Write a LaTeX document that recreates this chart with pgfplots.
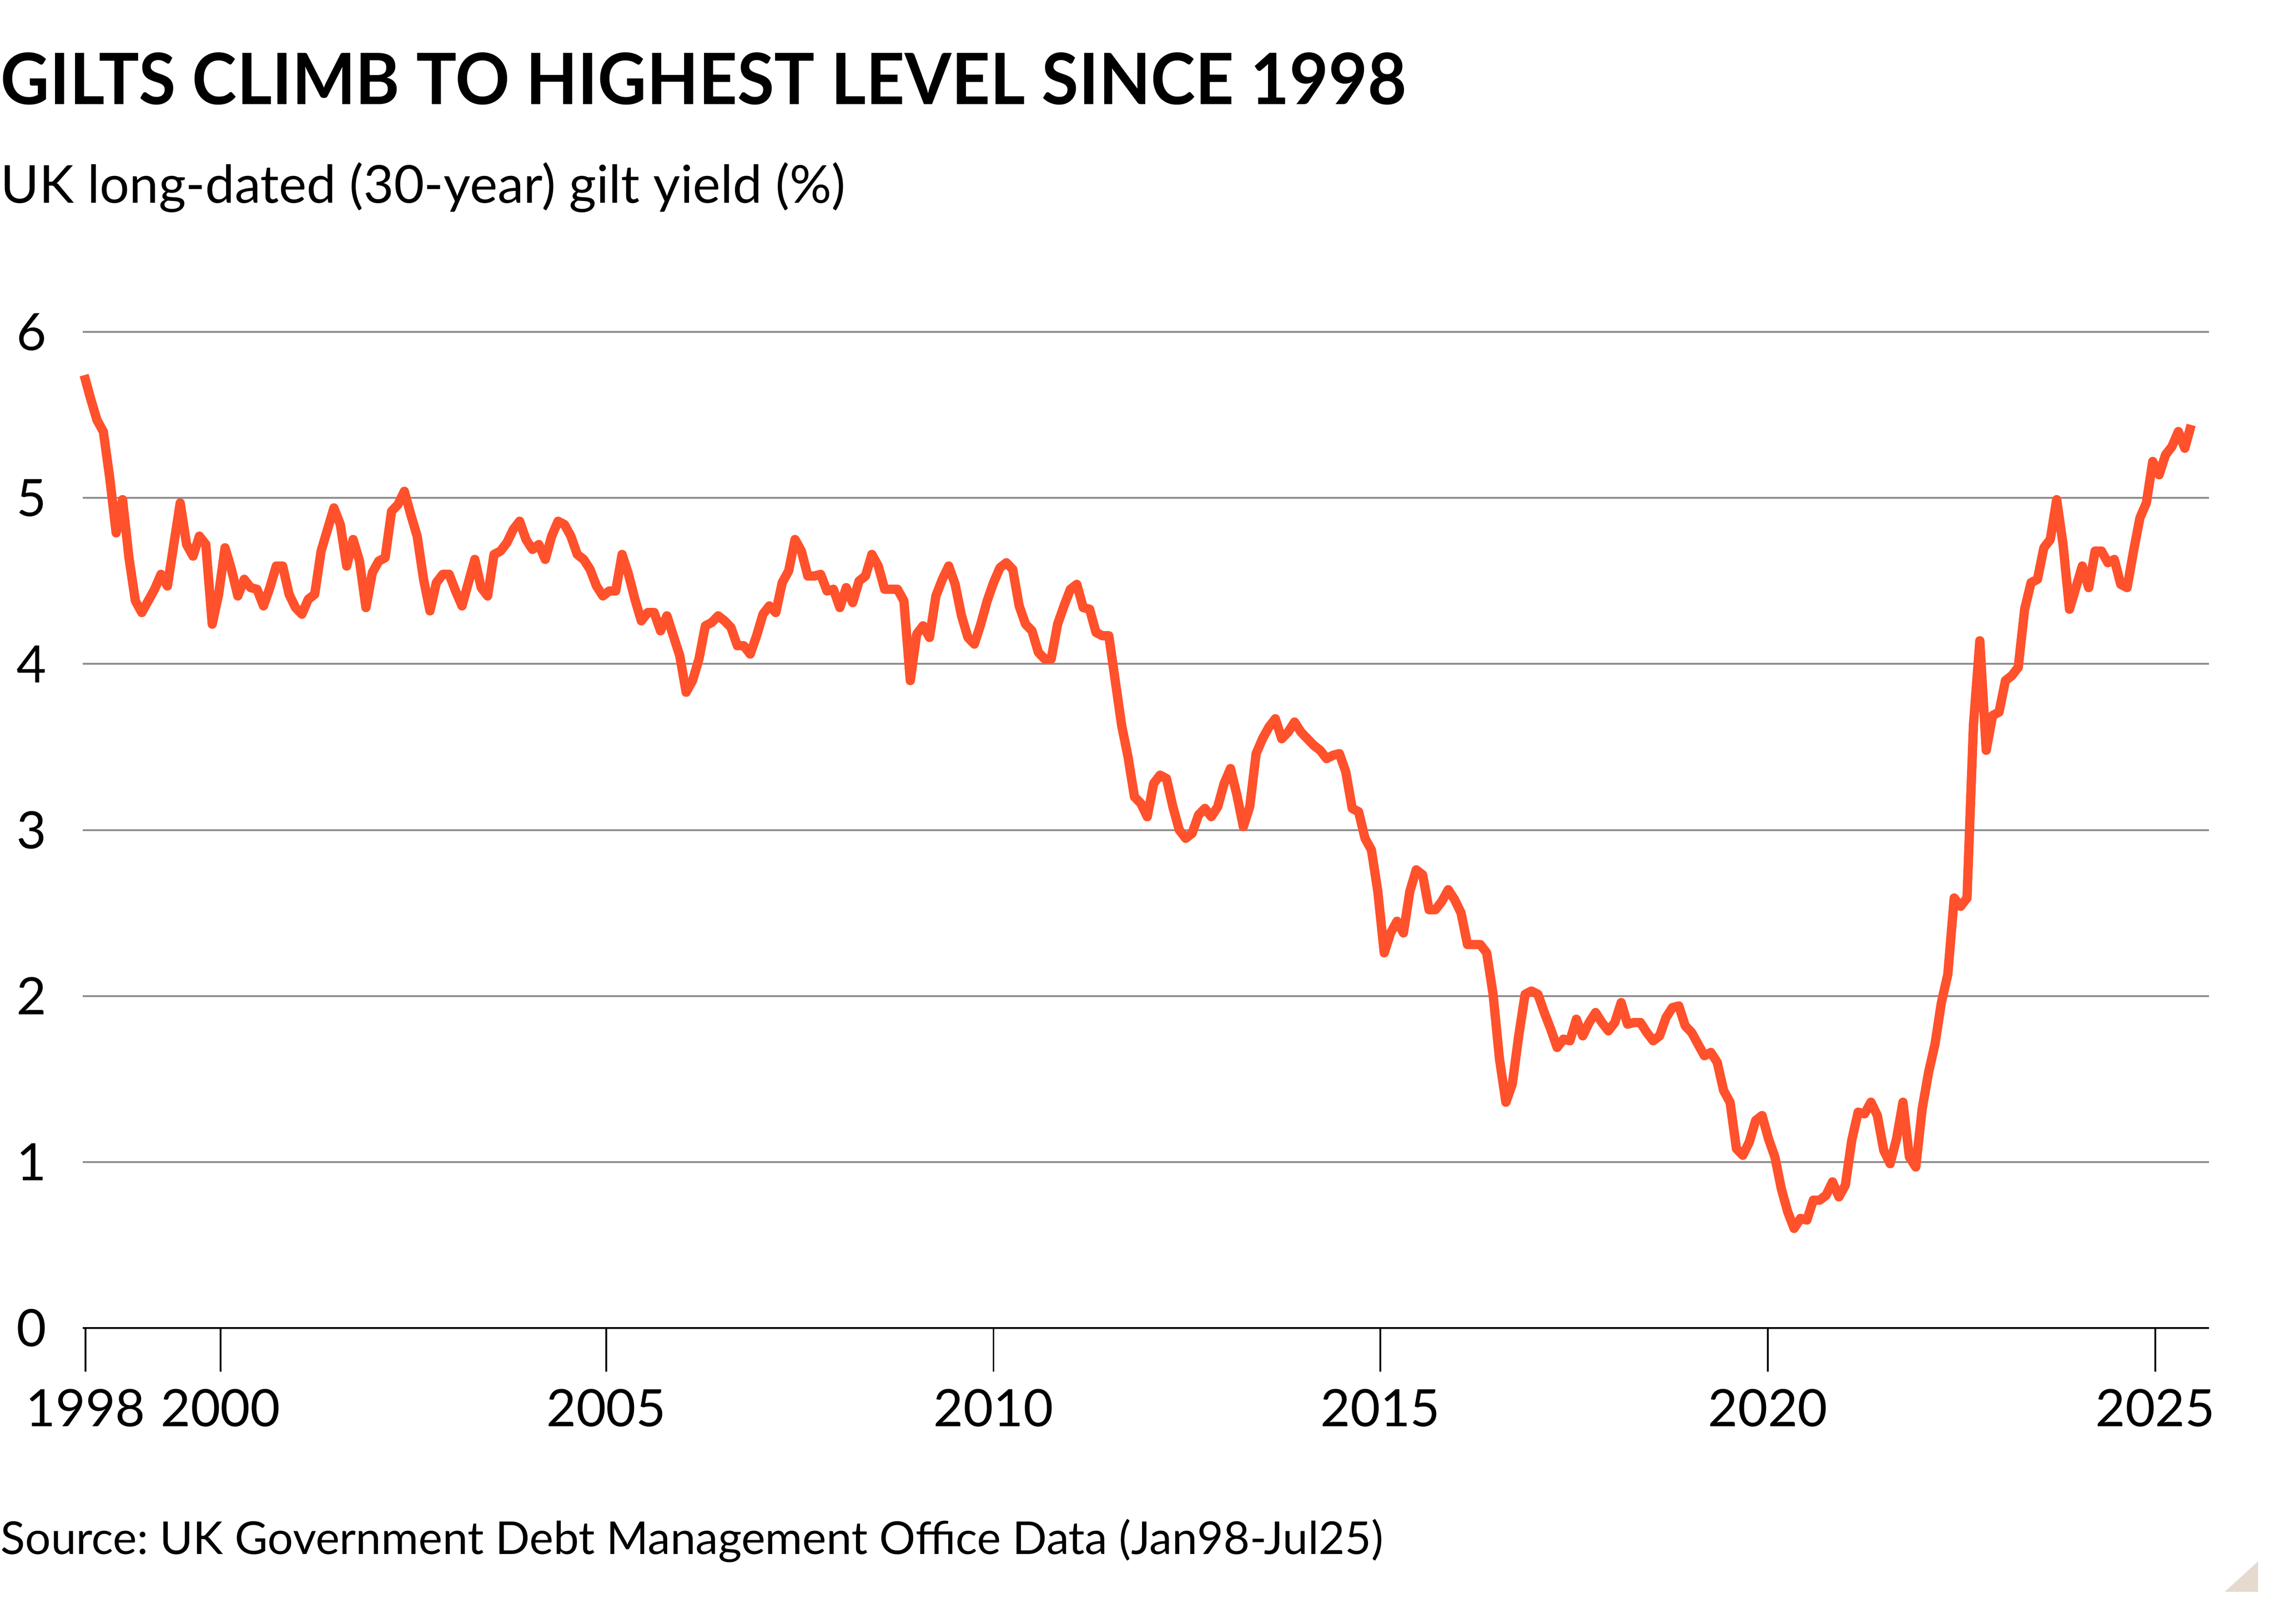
\documentclass[border=0pt]{standalone}
\usepackage{fontspec}
\setmainfont{Lato}
\usepackage{pgfplots}
\usepackage{pgfplotstable}
\pgfplotsset{compat=1.18}

\definecolor{ftline}{RGB}{255,81,43}
\definecolor{ftgrid}{RGB}{140,140,140}
\definecolor{ftcorner}{RGB}{230,218,206}

% UK 30-year gilt yield (%), monthly, Jan 1998 - Jul 2025
\pgfplotstableread{
y
5.74
5.60
5.47
5.40
5.12
4.79
4.99
4.64
4.38
4.31
4.38
4.45
4.54
4.47
4.72
4.97
4.72
4.65
4.77
4.72
4.24
4.42
4.70
4.57
4.41
4.51
4.46
4.45
4.35
4.46
4.59
4.59
4.42
4.34
4.30
4.39
4.42
4.68
4.81
4.94
4.84
4.59
4.75
4.62
4.34
4.55
4.62
4.64
4.92
4.96
5.04
4.90
4.77
4.51
4.32
4.49
4.54
4.54
4.44
4.35
4.49
4.63
4.46
4.41
4.66
4.68
4.73
4.81
4.86
4.75
4.69
4.72
4.63
4.77
4.86
4.84
4.77
4.66
4.63
4.57
4.47
4.41
4.44
4.44
4.66
4.54
4.39
4.26
4.31
4.31
4.20
4.29
4.17
4.05
3.83
3.90
4.03
4.23
4.25
4.29
4.26
4.22
4.11
4.11
4.06
4.17
4.30
4.35
4.31
4.49
4.56
4.75
4.68
4.53
4.53
4.54
4.44
4.45
4.34
4.46
4.37
4.50
4.53
4.66
4.59
4.45
4.45
4.45
4.38
3.90
4.18
4.23
4.16
4.41
4.51
4.59
4.48
4.29
4.16
4.12
4.24
4.38
4.49
4.58
4.61
4.57
4.35
4.24
4.20
4.07
4.03
4.03
4.24
4.35
4.45
4.48
4.34
4.33
4.19
4.17
4.17
3.90
3.63
3.44
3.20
3.16
3.08
3.28
3.33
3.31
3.14
3.00
2.95
2.98
3.09
3.13
3.08
3.14
3.28
3.37
3.21
3.02
3.14
3.46
3.55
3.62
3.67
3.55
3.59
3.65
3.59
3.55
3.51
3.48
3.43
3.45
3.46
3.35
3.13
3.11
2.95
2.88
2.63
2.26
2.38
2.45
2.38
2.63
2.76
2.73
2.52
2.52
2.57
2.64
2.58
2.50
2.31
2.31
2.31
2.26
2.01
1.62
1.36
1.47
1.76
2.01
2.03
2.01
1.90
1.80
1.69
1.74
1.73
1.86
1.76
1.84
1.90
1.84
1.79
1.84
1.96
1.83
1.84
1.84
1.78
1.73
1.76
1.87
1.93
1.94
1.82
1.78
1.71
1.64
1.66
1.60
1.43
1.36
1.08
1.04
1.12
1.25
1.28
1.14
1.03
0.84
0.70
0.60
0.66
0.65
0.77
0.77
0.80
0.88
0.79
0.86
1.13
1.30
1.29
1.36
1.28
1.07
0.99
1.14
1.36
1.03
0.97
1.32
1.54
1.71
1.96
2.13
2.59
2.54
2.59
3.63
4.14
3.48
3.69
3.71
3.90
3.93
3.98
4.33
4.49
4.51
4.70
4.75
4.99
4.72
4.33
4.46
4.59
4.46
4.68
4.68
4.61
4.63
4.48
4.46
4.68
4.88
4.97
5.22
5.14
5.26
5.31
5.40
5.30
5.44
}\giltdata

\begin{document}
\frenchspacing
\begin{tikzpicture}[x=1pt,y=1pt]
\path[use as bounding box] (-20.52,-73.44) rectangle (543.96,329.76);

\node[anchor=base west, inner sep=0pt] at (-20.52,303.84)
  {\scalebox{0.95}[1]{\fontsize{17.6}{20}\selectfont\bfseries GILTS CLIMB TO HIGHEST LEVEL SINCE 1998}};
\node[anchor=base west, inner sep=0pt] at (-20.52,279.36)
  {\fontsize{13}{15}\selectfont UK long-dated (30-year) gilt yield (\%)};
\node[anchor=base west, inner sep=0pt] at (-20.52,-56.16)
  {\fontsize{11.25}{14}\selectfont Source: UK Government Debt Management Office Data (Jan98-Jul25)};
\fill[ftcorner] (531.72,-65.52) -- (540,-65.52) -- (540,-57.96) -- cycle;

\begin{axis}[
  at={(0,0)}, anchor=south west,
  scale only axis,
  width=527.76pt, height=247.32pt,
  xmin=-0.23, xmax=331.75,
  ymin=0, ymax=6,
  axis x line*=bottom,
  axis y line*=left,
  y axis line style={draw=none},
  x axis line style={black, line width=0.45pt},
  xtick={0.23,21.29,81.52,141.98,202.4,262.9,323.4},
  xticklabels={1998,2000,2005,2010,2015,2020,2025},
  ytick={0,1,2,3,4,5,6},
  yticklabels={0,1,2,3,4,5,6},
  tick align=outside,
  major tick length=10.8pt,
  xtick style={black, line width=0.4pt},
  ytick style={draw=none},
  ymajorgrids,
  grid style={ftgrid, line width=0.45pt},
  tick label style={font=\fontsize{12.8}{14}\selectfont},
  xticklabel style={anchor=base, inner sep=0pt, yshift=-13.7pt},
  yticklabel style={anchor=east, inner sep=0pt, xshift=2.0pt},
  /pgf/number format/assume math mode=true,
  clip=false,
]
\addplot[ftline, line width=2.3pt, line join=round, line cap=butt]
  table[x expr=\coordindex, y=y] {\giltdata};
\end{axis}
\end{tikzpicture}
\end{document}
